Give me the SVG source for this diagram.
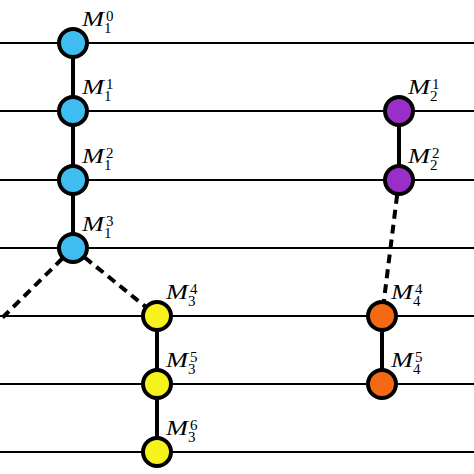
<svg xmlns="http://www.w3.org/2000/svg" width="474" height="474" viewBox="0 0 474 474">
<style>
.h{stroke:#000;stroke-width:2}
.s{stroke:#000;stroke-width:4}
.d{stroke:#000;stroke-width:4;stroke-dasharray:9,6}
circle{stroke:#000;stroke-width:4}
.b{fill:#3fbdf1}.y{fill:#f6f21c}.p{fill:#9a2ec8}.o{fill:#f46a14}
text{font-family:"Liberation Serif","DejaVu Serif",serif;fill:#000;font-size:15px}
.m{font-style:italic;font-size:21px}
</style>
<rect width="474" height="474" fill="#fff"/>
<g id="lines">
<line class="h" x1="0" y1="43" x2="474" y2="43"/>
<line class="h" x1="0" y1="111" x2="474" y2="111"/>
<line class="h" x1="0" y1="180" x2="474" y2="180"/>
<line class="h" x1="0" y1="248" x2="474" y2="248"/>
<line class="h" x1="0" y1="316" x2="474" y2="316"/>
<line class="h" x1="0" y1="384" x2="474" y2="384"/>
<line class="h" x1="0" y1="452" x2="474" y2="452"/>
</g>
<g id="connectors">
<line class="s" x1="73" y1="43" x2="73" y2="248"/>
<line class="s" x1="157" y1="316" x2="157" y2="452"/>
<line class="s" x1="399" y1="111" x2="399" y2="180"/>
<line class="s" x1="382" y1="316" x2="382" y2="384"/>
<line class="d" x1="73" y1="248" x2="-4" y2="324"/>
<line class="d" x1="73" y1="248" x2="157" y2="316"/>
<line class="d" x1="399" y1="180" x2="382" y2="316"/>
</g>
<g id="M1_0"><circle class="b" cx="73" cy="43" r="14"/><text><tspan class="m" x="82" y="26" textLength="22" lengthAdjust="spacingAndGlyphs">M</tspan><tspan x="106" y="21">0</tspan><tspan x="104" y="33">1</tspan></text></g>
<g id="M1_1"><circle class="b" cx="73" cy="111" r="14"/><text><tspan class="m" x="82" y="94" textLength="22" lengthAdjust="spacingAndGlyphs">M</tspan><tspan x="106" y="89">1</tspan><tspan x="104" y="101">1</tspan></text></g>
<g id="M1_2"><circle class="b" cx="73" cy="180" r="14"/><text><tspan class="m" x="82" y="163" textLength="22" lengthAdjust="spacingAndGlyphs">M</tspan><tspan x="106" y="158">2</tspan><tspan x="104" y="170">1</tspan></text></g>
<g id="M1_3"><circle class="b" cx="73" cy="248" r="14"/><text><tspan class="m" x="82" y="231" textLength="22" lengthAdjust="spacingAndGlyphs">M</tspan><tspan x="106" y="226">3</tspan><tspan x="104" y="238">1</tspan></text></g>
<g id="M3_4"><circle class="y" cx="157" cy="316" r="14"/><text><tspan class="m" x="166" y="299" textLength="22" lengthAdjust="spacingAndGlyphs">M</tspan><tspan x="190" y="294">4</tspan><tspan x="188" y="306">3</tspan></text></g>
<g id="M3_5"><circle class="y" cx="157" cy="384" r="14"/><text><tspan class="m" x="166" y="367" textLength="22" lengthAdjust="spacingAndGlyphs">M</tspan><tspan x="190" y="362">5</tspan><tspan x="188" y="374">3</tspan></text></g>
<g id="M3_6"><circle class="y" cx="157" cy="452" r="14"/><text><tspan class="m" x="166" y="435" textLength="22" lengthAdjust="spacingAndGlyphs">M</tspan><tspan x="190" y="430">6</tspan><tspan x="188" y="442">3</tspan></text></g>
<g id="M2_1"><circle class="p" cx="399" cy="111" r="14"/><text><tspan class="m" x="408" y="94" textLength="22" lengthAdjust="spacingAndGlyphs">M</tspan><tspan x="432" y="89">1</tspan><tspan x="430" y="101">2</tspan></text></g>
<g id="M2_2"><circle class="p" cx="399" cy="180" r="14"/><text><tspan class="m" x="408" y="163" textLength="22" lengthAdjust="spacingAndGlyphs">M</tspan><tspan x="432" y="158">2</tspan><tspan x="430" y="170">2</tspan></text></g>
<g id="M4_4"><circle class="o" cx="382" cy="316" r="14"/><text><tspan class="m" x="391" y="299" textLength="22" lengthAdjust="spacingAndGlyphs">M</tspan><tspan x="415" y="294">4</tspan><tspan x="413" y="306">4</tspan></text></g>
<g id="M4_5"><circle class="o" cx="382" cy="384" r="14"/><text><tspan class="m" x="391" y="367" textLength="22" lengthAdjust="spacingAndGlyphs">M</tspan><tspan x="415" y="362">5</tspan><tspan x="413" y="374">4</tspan></text></g>
</svg>
